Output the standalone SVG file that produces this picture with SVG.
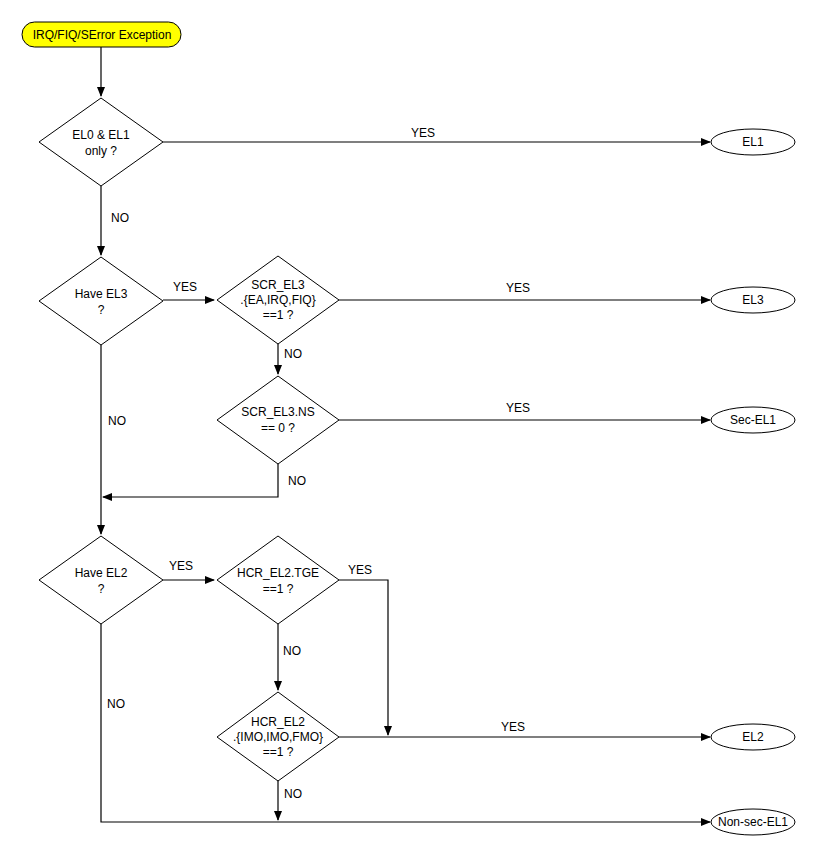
<svg xmlns="http://www.w3.org/2000/svg" width="829" height="854" viewBox="0 0 829 854">
<defs>
<marker id="ah" markerWidth="10" markerHeight="10" refX="9" refY="5" orient="auto" markerUnits="userSpaceOnUse"><path d="M0,1 L10,5 L0,9 Z" fill="#000"/></marker>
<style>
text{font-family:"Liberation Sans",Arial,sans-serif;font-size:12px;fill:#000;text-anchor:middle}
.s{fill:#fff;stroke:#000;stroke-width:1}
.c{fill:none;stroke:#000;stroke-width:1.2}
</style>
</defs>
<rect width="829" height="854" fill="#fff"/>
<g id="connectors">
<path class="c" d="M101,47 V96" marker-end="url(#ah)"/>
<path class="c" d="M163,142 H710" marker-end="url(#ah)"/>
<path class="c" d="M101,186 V255" marker-end="url(#ah)"/>
<path class="c" d="M163,300 H214" marker-end="url(#ah)"/>
<path class="c" d="M339,300 H710" marker-end="url(#ah)"/>
<path class="c" d="M278,344 V374" marker-end="url(#ah)"/>
<path class="c" d="M339,420 H710" marker-end="url(#ah)"/>
<path class="c" d="M278,464 V497 H103" marker-end="url(#ah)"/>
<path class="c" d="M101,345 V534" marker-end="url(#ah)"/>
<path class="c" d="M163,580 H214" marker-end="url(#ah)"/>
<path class="c" d="M339,580 H388 V735" marker-end="url(#ah)"/>
<path class="c" d="M278,624 V690" marker-end="url(#ah)"/>
<path class="c" d="M339,737 H710" marker-end="url(#ah)"/>
<path class="c" d="M278,780 V820" marker-end="url(#ah)"/>
<path class="c" d="M101,624 V822 H710" marker-end="url(#ah)"/>
<text x="423" y="137">YES</text>
<text x="120" y="222">NO</text>
<text x="185" y="291">YES</text>
<text x="518" y="292">YES</text>
<text x="293" y="358">NO</text>
<text x="518" y="412">YES</text>
<text x="117" y="425">NO</text>
<text x="297" y="485">NO</text>
<text x="181" y="570">YES</text>
<text x="360" y="574">YES</text>
<text x="292" y="655">NO</text>
<text x="513" y="731">YES</text>
<text x="293" y="798">NO</text>
<text x="116" y="708">NO</text>
</g>
<g id="start"><rect x="22" y="22" width="159" height="25" rx="12.5" fill="#ffff00" stroke="#000"/><text x="102" y="39">IRQ/FIQ/SError Exception</text></g>
<g id="d1"><polygon class="s" points="101,98 163,142 101,186 39,142"/><text x="101" y="139">EL0 &amp; EL1</text><text x="101" y="155">only ?</text></g>
<g id="el1"><ellipse class="s" cx="753" cy="142" rx="42" ry="13"/><text x="753" y="146">EL1</text></g>
<g id="d2"><polygon class="s" points="101,257 163,301 101,345 39,301"/><text x="101" y="298">Have EL3</text><text x="101" y="314">?</text></g>
<g id="d3"><polygon class="s" points="278,256 339,300 278,344 217,300"/><text x="278" y="289">SCR_EL3</text><text x="278" y="304">.{EA,IRQ,FIQ}</text><text x="278" y="319">==1 ?</text></g>
<g id="el3"><ellipse class="s" cx="753" cy="300" rx="42" ry="13"/><text x="753" y="304">EL3</text></g>
<g id="d4"><polygon class="s" points="278,376 339,420 278,464 217,420"/><text x="278" y="416">SCR_EL3.NS</text><text x="278" y="432">== 0 ?</text></g>
<g id="secel1"><ellipse class="s" cx="753" cy="420" rx="42" ry="13"/><text x="753" y="424">Sec-EL1</text></g>
<g id="d5"><polygon class="s" points="101,536 163,580 101,624 39,580"/><text x="101" y="577">Have EL2</text><text x="101" y="593">?</text></g>
<g id="d6"><polygon class="s" points="278,536 339,580 278,624 217,580"/><text x="278" y="577">HCR_EL2.TGE</text><text x="278" y="593">==1 ?</text></g>
<g id="d7"><polygon class="s" points="278,692 339,737 278,781 217,737"/><text x="278" y="726">HCR_EL2</text><text x="278" y="741">.{IMO,IMO,FMO}</text><text x="278" y="756">==1 ?</text></g>
<g id="el2"><ellipse class="s" cx="753" cy="737" rx="42" ry="13"/><text x="753" y="741">EL2</text></g>
<g id="nonsec"><ellipse class="s" cx="753" cy="822" rx="42" ry="13"/><text x="753" y="826">Non-sec-EL1</text></g>
</svg>
